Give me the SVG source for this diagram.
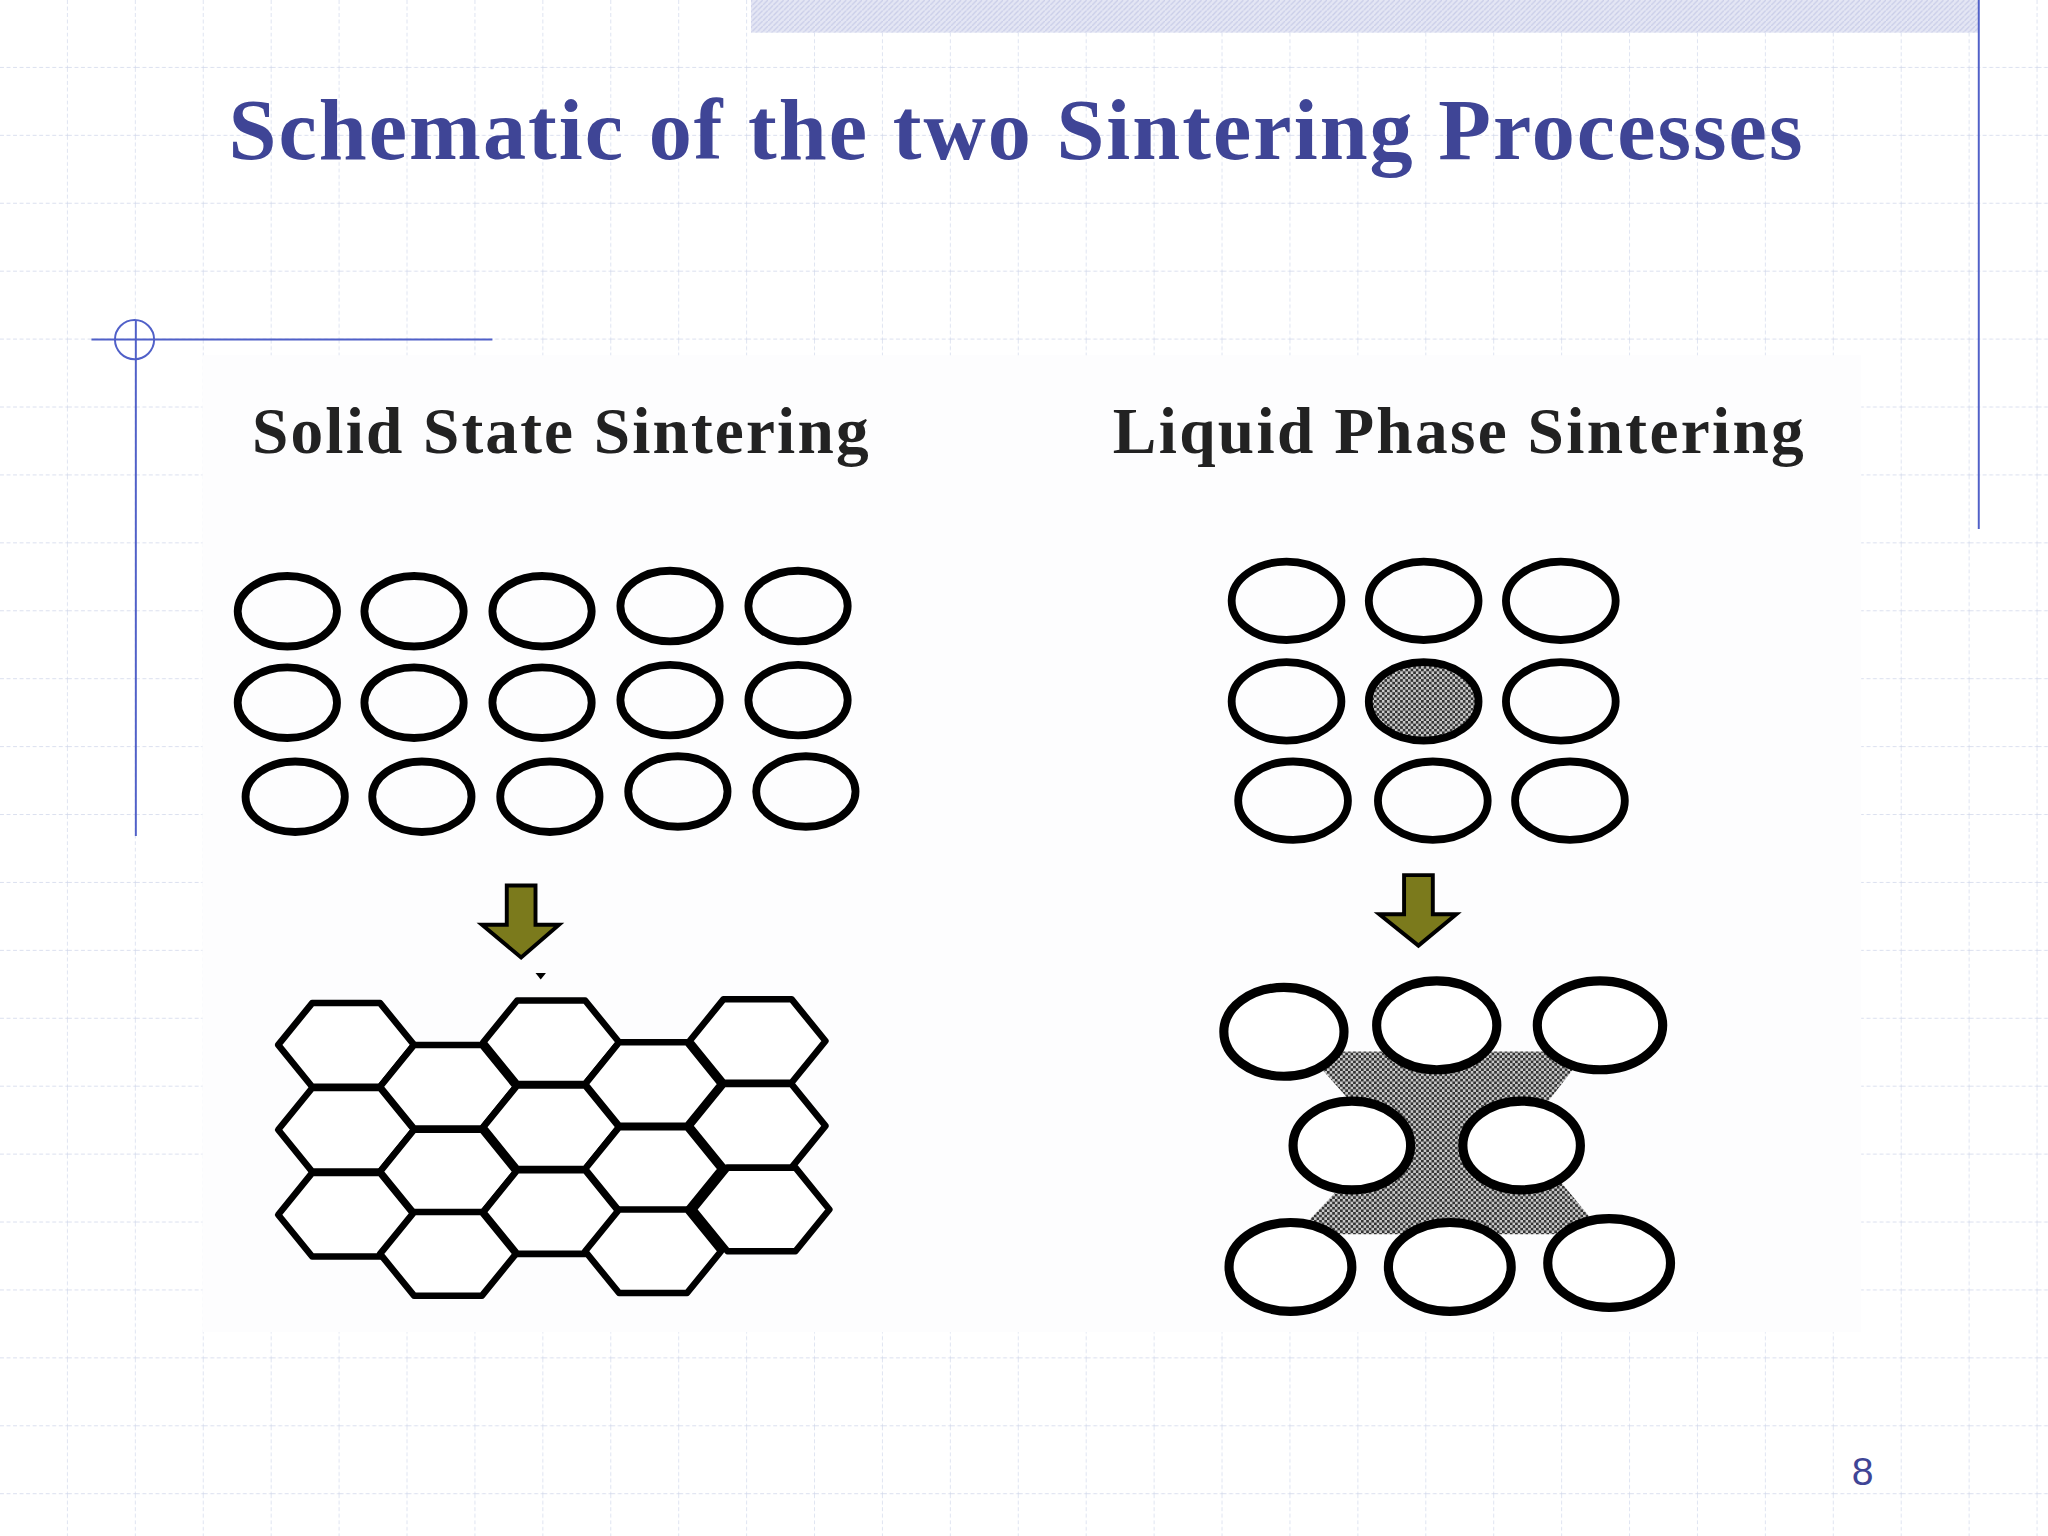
<svg xmlns="http://www.w3.org/2000/svg" width="2048" height="1536" viewBox="0 0 2048 1536">
<defs>
<pattern id="grid" width="52" height="52" patternUnits="userSpaceOnUse" x="0" y="0">
<path d="M52 0V52M0 52H52" fill="none" stroke="#cfd6ea" stroke-width="1" stroke-dasharray="3 2"/>
</pattern>
<pattern id="dots" width="4" height="4" patternUnits="userSpaceOnUse">
<rect width="4" height="4" fill="#c8c8c8"/><rect width="2" height="2" fill="#333"/><rect x="2" y="2" width="2" height="2" fill="#333"/>
</pattern>
<pattern id="hatch" width="4" height="4" patternUnits="userSpaceOnUse">
<rect width="4" height="4" fill="#e4e6f4"/><path d="M0 4L4 0" stroke="#c9cde8" stroke-width="1"/>
</pattern>
<style>
.c{fill:none;stroke:#000;stroke-width:6}
.h{fill:#fff;stroke:#000;stroke-width:5;stroke-linejoin:round}
.ar{fill:#7b7a1c;stroke:#000;stroke-width:3}
.sub{font-family:"Liberation Serif",serif;font-weight:bold;font-size:50px;fill:#222}
.ln{stroke:#5060c8;stroke-width:1.5;fill:none}
</style>
</defs>
<g transform="scale(1.30612)">
<rect width="1568" height="1176" fill="#fff"/>
<rect width="1568" height="1176" fill="url(#grid)"/>
<rect x="575" y="0" width="940" height="25" fill="url(#hatch)"/>
<path class="ln" d="M1515 0V405M70 260H377M104 245V640"/>
<circle class="ln" cx="103" cy="260" r="15"/>
<text x="175" y="122" textLength="1205" font-family="Liberation Serif,serif" font-weight="bold" font-size="66" fill="#3f4596">Schematic of the two Sintering Processes</text>
<rect x="155" y="272" width="1270" height="748" fill="#fdfdfe"/>
<text class="sub" x="193" y="347" textLength="472">Solid State Sintering</text>
<text class="sub" x="852" y="347" textLength="529">Liquid Phase Sintering</text>
<g id="solid-particles">
<ellipse class="c" cx="220" cy="468" rx="38" ry="27"/><ellipse class="c" cx="317" cy="468" rx="38" ry="27"/><ellipse class="c" cx="415" cy="468" rx="38" ry="27"/><ellipse class="c" cx="513" cy="464" rx="38" ry="27"/><ellipse class="c" cx="611" cy="464" rx="38" ry="27"/>
<ellipse class="c" cx="220" cy="538" rx="38" ry="27"/><ellipse class="c" cx="317" cy="538" rx="38" ry="27"/><ellipse class="c" cx="415" cy="538" rx="38" ry="27"/><ellipse class="c" cx="513" cy="536" rx="38" ry="27"/><ellipse class="c" cx="611" cy="536" rx="38" ry="27"/>
<ellipse class="c" cx="226" cy="610" rx="38" ry="27"/><ellipse class="c" cx="323" cy="610" rx="38" ry="27"/><ellipse class="c" cx="421" cy="610" rx="38" ry="27"/><ellipse class="c" cx="519" cy="606" rx="38" ry="27"/><ellipse class="c" cx="617" cy="606" rx="38" ry="27"/>
</g>
<g id="arrows">
<path class="ar" d="M388 678H410V708H428L399 733L369 708H388Z"/>
<path class="ar" d="M1075 670H1097V700H1115L1086 724L1056 700H1075Z"/>
</g>
<g id="solid-grains">
<g id="hx">
<path id="hex" class="h" d="M-52 0L-26 -32L26 -32L52 0L26 32L-26 32Z" transform="translate(265,800)"/>
</g>
<use href="#hex" transform="translate(0,65)"/><use href="#hex" transform="translate(0,130)"/>
<use href="#hex" transform="translate(78,32)"/><use href="#hex" transform="translate(78,97)"/><use href="#hex" transform="translate(78,160)"/>
<use href="#hex" transform="translate(157,-2)"/><use href="#hex" transform="translate(157,63)"/><use href="#hex" transform="translate(157,128)"/>
<use href="#hex" transform="translate(235,30)"/><use href="#hex" transform="translate(235,95)"/><use href="#hex" transform="translate(235,158)"/>
<use href="#hex" transform="translate(315,-3)"/><use href="#hex" transform="translate(315,62)"/><use href="#hex" transform="translate(318,126)"/>
<path d="M410 745h8l-4 5z" fill="#000"/>
</g>
<g id="liquid-particles">
<ellipse class="c" cx="985" cy="460" rx="42" ry="30"/><ellipse class="c" cx="1090" cy="460" rx="42" ry="30"/><ellipse class="c" cx="1195" cy="460" rx="42" ry="30"/>
<ellipse class="c" cx="985" cy="537" rx="42" ry="30"/><ellipse cx="1090" cy="537" rx="42" ry="30" fill="url(#dots)" stroke="#000" stroke-width="6"/><ellipse class="c" cx="1195" cy="537" rx="42" ry="30"/>
<ellipse class="c" cx="990" cy="613" rx="42" ry="30"/><ellipse class="c" cx="1097" cy="613" rx="42" ry="30"/><ellipse class="c" cx="1202" cy="613" rx="42" ry="30"/>
</g>
<g id="liquid-sintered">
<path d="M1000 805H1215L1180 850L1195 905L1228 945H992L1030 905L1040 850Z" fill="url(#dots)"/>
<path d="M1070 840H1130L1115 920H1085Z" fill="url(#dots)"/>
<g fill="#fff" stroke="#000" stroke-width="7">
<ellipse cx="983" cy="790" rx="46" ry="34"/><ellipse cx="1100" cy="785" rx="46" ry="34"/><ellipse cx="1225" cy="785" rx="48" ry="34"/>
<ellipse cx="1035" cy="877" rx="45" ry="34"/><ellipse cx="1165" cy="877" rx="45" ry="34"/>
<ellipse cx="988" cy="970" rx="47" ry="34"/><ellipse cx="1110" cy="970" rx="47" ry="34"/><ellipse cx="1232" cy="967" rx="47" ry="34"/>
</g>
</g>
<text x="1426" y="1137" text-anchor="middle" font-family="Liberation Sans,sans-serif" font-size="30" fill="#3f4596">8</text>
</g>
</svg>
